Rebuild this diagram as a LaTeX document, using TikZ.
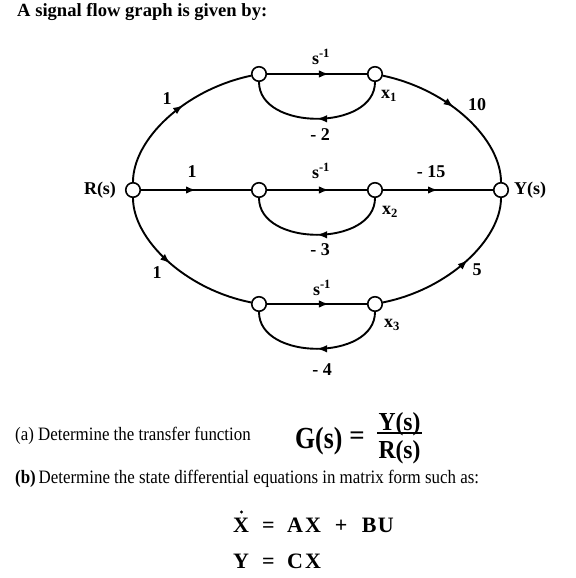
\documentclass[tikz,border=0pt]{standalone}
\usepackage{fontspec}
\setmainfont{Liberation Serif}
\usetikzlibrary{arrows.meta,decorations.markings}
\begin{document}
\begin{tikzpicture}[x=1bp,y=1bp,
  sfnode/.style={circle,draw,line width=1.6bp,minimum size=14.5bp,inner sep=0pt,fill=white},
  branch/.style={line width=1.9bp},
  midarrow/.style={postaction={decorate},decoration={markings,mark=at position #1 with {\arrow{Latex[length=10bp,width=7.5bp]}}}},
  lbl/.style={font=\fontsize{18bp}{20bp}\selectfont\bfseries,inner sep=0pt},
  txt/.style={anchor=base west,inner sep=0pt},
]
\path[fill=white] (0,0) rectangle (576,-578);
\useasboundingbox (0,0) rectangle (576,-578);

% nodes
\node[sfnode] (R)  at (133,-190) {};
\node[sfnode] (t1) at (259,-74) {};
\node[sfnode] (t2) at (375,-74) {};
\node[sfnode] (m1) at (259,-190) {};
\node[sfnode] (m2) at (375,-190) {};
\node[sfnode] (b1) at (259,-304) {};
\node[sfnode] (b2) at (375,-304) {};
\node[sfnode] (Y)  at (501,-190) {};

% outer arcs
\draw[branch,midarrow=0.56] (R) .. controls (133,-140) and (183.7,-90) .. (t1);
\draw[branch,midarrow=0.46] (t2) .. controls (450.3,-90) and (501,-140) .. (Y);
\draw[branch,midarrow=0.46] (R) .. controls (133,-239) and (184.5,-289.1) .. (b1);
\draw[branch,midarrow=0.57] (b2) .. controls (449.5,-289.1) and (501,-239) .. (Y);

% straight branches
\draw[branch,midarrow=0.62] (t1) -- (t2);
\draw[branch,midarrow=0.5] (R) -- (m1);
\draw[branch,midarrow=0.62] (m1) -- (m2);
\draw[branch,midarrow=0.5] (m2) -- (Y);
\draw[branch,midarrow=0.62] (b1) -- (b2);

% feedback loops
\draw[branch,midarrow=0.5] (t2.south) .. controls +(0,-49) and +(0,-49) .. (t1.south);
\draw[branch,midarrow=0.5] (m2.south) .. controls +(0,-49) and +(0,-49) .. (m1.south);
\draw[branch,midarrow=0.5] (b2.south) .. controls +(0,-49) and +(0,-49) .. (b1.south);

% labels
\node[lbl] (l1)  at (167,-99) {1};
\node[lbl] (l10) at (477,-105) {10};
\node[lbl] (s1)  at (321,-57) {s\textsuperscript{-1}};
\node[lbl] (x1)  at (389,-96) {x\textsubscript{1}};
\node[lbl] (g2)  at (320,-135) {- 2};
\node[lbl] (lm)  at (192,-172) {1};
\node[lbl] (s2)  at (321,-171) {s\textsuperscript{-1}};
\node[lbl] (g15) at (431,-172) {- 15};
\node[lbl] (x2)  at (390,-212) {x\textsubscript{2}};
\node[lbl] (g3)  at (320,-250) {- 3};
\node[lbl] (lb)  at (157,-273) {1};
\node[lbl] (l5)  at (477,-270) {5};
\node[lbl] (s3)  at (322,-288) {s\textsuperscript{-1}};
\node[lbl] (x3)  at (392,-325) {x\textsubscript{3}};
\node[lbl] (g4)  at (322,-370) {- 4};
\node[lbl] (Rs)  at (100,-190) {R(s)};
\node[lbl] (Ys)  at (530,-190) {Y(s)};

% text
\node[txt,font=\fontsize{18.6bp}{20bp}\selectfont\bfseries] (title) at (17,-17) {A signal flow graph is given by:};
\node[txt,font=\fontsize{16.9bp}{19bp}\selectfont] (qa) at (15,-440) {\scalebox{1}[1.12]{(a) Determine the transfer function}};
\node[txt,font=\fontsize{24.5bp}{26bp}\selectfont\bfseries] (G) at (295,-448) {\scalebox{1.05}[1.25]{G(s)}};
\node[inner sep=0pt,font=\fontsize{27bp}{28bp}\selectfont\bfseries] (eq) at (357,-438) {=};
\node[anchor=base,inner sep=0pt,font=\fontsize{23.6bp}{25bp}\selectfont\bfseries] (num) at (399.5,-430) {\scalebox{1}[1.1]{Y(s)}};
\node[anchor=base,inner sep=0pt,font=\fontsize{23.6bp}{25bp}\selectfont\bfseries] (den) at (399.5,-458) {\scalebox{1}[1.1]{R(s)}};
\coordinate (barL) at (377,-433);
\coordinate (barR) at (422,-433);
\draw[line width=1.3bp] (barL) -- (barR);
\node[txt,font=\fontsize{16.9bp}{19bp}\selectfont] (qb) at (15,-483) {\scalebox{1}[1.12]{\textbf{(b)}\,Determine the state differential equations in matrix form such as:}};
\node[txt,font=\fontsize{22bp}{24bp}\selectfont\bfseries] (e1) at (233,-532) {X\hspace{13bp}=\hspace{12.5bp}A\hspace{2bp}X\hspace{14bp}+\hspace{14.5bp}B\hspace{1.3bp}U};
\fill (e1.base west) ++(8.5,20) circle (1.7bp);
\node[txt,font=\fontsize{22bp}{24bp}\selectfont\bfseries] (e2) at (233,-568) {Y\hspace{13bp}=\hspace{12.5bp}C\hspace{2bp}X};
\end{tikzpicture}
\end{document}
